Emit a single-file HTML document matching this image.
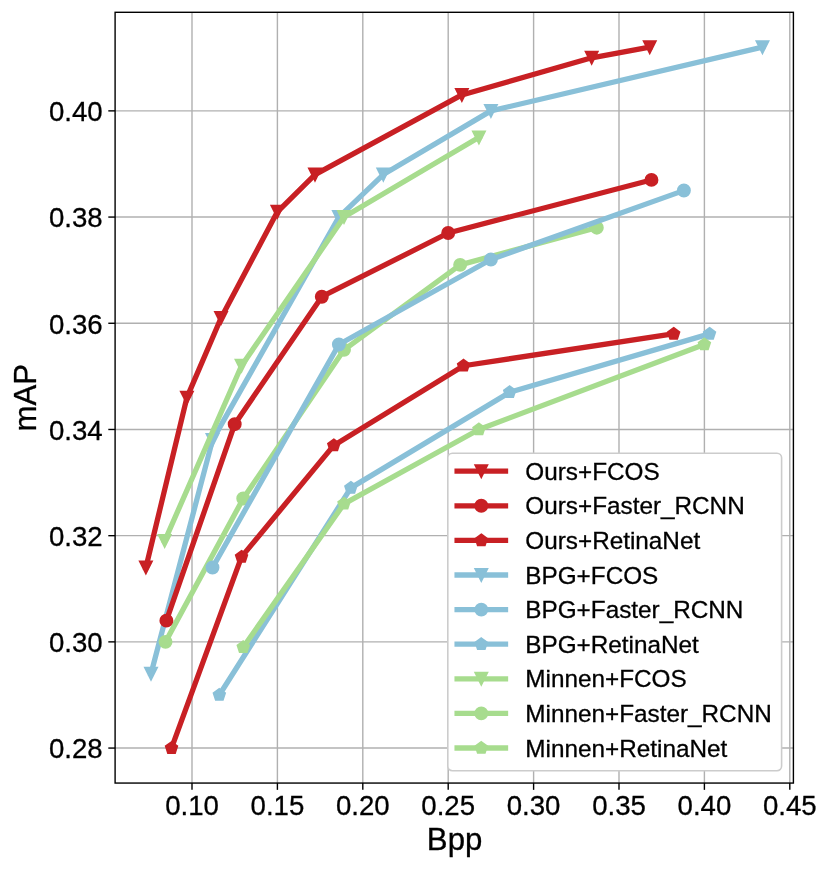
<!DOCTYPE html>
<html><head><meta charset="utf-8"><title>mAP vs Bpp</title>
<style>html,body{margin:0;padding:0;background:#fff;}body{width:830px;height:869px;overflow:hidden;}svg{display:block;}</style>
</head><body>
<svg width="830" height="869" viewBox="0 0 830 869" font-family="'Liberation Sans', Arial, Helvetica, sans-serif" fill="#000">
<rect x="0" y="0" width="830" height="869" fill="#fff"/>
<g stroke="#b0b0b0" stroke-width="1.4" fill="none">
<line x1="192.00" y1="12.3" x2="192.00" y2="783.06"/>
<line x1="277.40" y1="12.3" x2="277.40" y2="783.06"/>
<line x1="362.80" y1="12.3" x2="362.80" y2="783.06"/>
<line x1="448.20" y1="12.3" x2="448.20" y2="783.06"/>
<line x1="533.60" y1="12.3" x2="533.60" y2="783.06"/>
<line x1="619.00" y1="12.3" x2="619.00" y2="783.06"/>
<line x1="704.40" y1="12.3" x2="704.40" y2="783.06"/>
<line x1="789.80" y1="12.3" x2="789.80" y2="783.06"/>
<line x1="115.1" y1="748.07" x2="793.4" y2="748.07"/>
<line x1="115.1" y1="641.87" x2="793.4" y2="641.87"/>
<line x1="115.1" y1="535.67" x2="793.4" y2="535.67"/>
<line x1="115.1" y1="429.47" x2="793.4" y2="429.47"/>
<line x1="115.1" y1="323.27" x2="793.4" y2="323.27"/>
<line x1="115.1" y1="217.07" x2="793.4" y2="217.07"/>
<line x1="115.1" y1="110.87" x2="793.4" y2="110.87"/>
</g>
<clipPath id="ax"><rect x="115.1" y="12.3" width="678.3" height="770.76"/></clipPath>
<g clip-path="url(#ax)">
<polyline points="151.01,673.73 212.50,440.09 338.89,217.07 383.30,174.59 490.90,110.87 762.47,47.15" fill="none" stroke="#89c0d8" stroke-width="5.3" stroke-linejoin="round" stroke-linecap="square"/>
<polygon points="151.01,679.83 144.91,667.63 157.11,667.63" fill="#89c0d8" stroke="#89c0d8" stroke-width="1.74" stroke-linejoin="miter"/>
<polygon points="212.50,446.19 206.40,433.99 218.60,433.99" fill="#89c0d8" stroke="#89c0d8" stroke-width="1.74" stroke-linejoin="miter"/>
<polygon points="338.89,223.17 332.79,210.97 344.99,210.97" fill="#89c0d8" stroke="#89c0d8" stroke-width="1.74" stroke-linejoin="miter"/>
<polygon points="383.30,180.69 377.20,168.49 389.40,168.49" fill="#89c0d8" stroke="#89c0d8" stroke-width="1.74" stroke-linejoin="miter"/>
<polygon points="490.90,116.97 484.80,104.77 497.00,104.77" fill="#89c0d8" stroke="#89c0d8" stroke-width="1.74" stroke-linejoin="miter"/>
<polygon points="762.47,53.25 756.37,41.05 768.57,41.05" fill="#89c0d8" stroke="#89c0d8" stroke-width="1.74" stroke-linejoin="miter"/>
<polyline points="164.67,540.98 241.53,365.75 344.01,217.07 478.94,137.42" fill="none" stroke="#a7dc8e" stroke-width="5.3" stroke-linejoin="round" stroke-linecap="square"/>
<polygon points="164.67,547.08 158.57,534.88 170.77,534.88" fill="#a7dc8e" stroke="#a7dc8e" stroke-width="1.74" stroke-linejoin="miter"/>
<polygon points="241.53,371.85 235.43,359.65 247.63,359.65" fill="#a7dc8e" stroke="#a7dc8e" stroke-width="1.74" stroke-linejoin="miter"/>
<polygon points="344.01,223.17 337.91,210.97 350.11,210.97" fill="#a7dc8e" stroke="#a7dc8e" stroke-width="1.74" stroke-linejoin="miter"/>
<polygon points="478.94,143.52 472.84,131.32 485.04,131.32" fill="#a7dc8e" stroke="#a7dc8e" stroke-width="1.74" stroke-linejoin="miter"/>
<polyline points="165.53,641.87 243.24,498.50 344.01,349.82 460.16,264.86 596.80,227.69" fill="none" stroke="#a7dc8e" stroke-width="5.3" stroke-linejoin="round" stroke-linecap="square"/>
<circle cx="165.53" cy="641.87" r="6.10" fill="#a7dc8e" stroke="#a7dc8e" stroke-width="1.74"/>
<circle cx="243.24" cy="498.50" r="6.10" fill="#a7dc8e" stroke="#a7dc8e" stroke-width="1.74"/>
<circle cx="344.01" cy="349.82" r="6.10" fill="#a7dc8e" stroke="#a7dc8e" stroke-width="1.74"/>
<circle cx="460.16" cy="264.86" r="6.10" fill="#a7dc8e" stroke="#a7dc8e" stroke-width="1.74"/>
<circle cx="596.80" cy="227.69" r="6.10" fill="#a7dc8e" stroke="#a7dc8e" stroke-width="1.74"/>
<polyline points="212.50,567.53 338.89,344.51 490.90,259.55 683.90,190.52" fill="none" stroke="#89c0d8" stroke-width="5.3" stroke-linejoin="round" stroke-linecap="square"/>
<circle cx="212.50" cy="567.53" r="6.10" fill="#89c0d8" stroke="#89c0d8" stroke-width="1.74"/>
<circle cx="338.89" cy="344.51" r="6.10" fill="#89c0d8" stroke="#89c0d8" stroke-width="1.74"/>
<circle cx="490.90" cy="259.55" r="6.10" fill="#89c0d8" stroke="#89c0d8" stroke-width="1.74"/>
<circle cx="683.90" cy="190.52" r="6.10" fill="#89c0d8" stroke="#89c0d8" stroke-width="1.74"/>
<polyline points="219.33,694.97 350.84,487.88 509.69,392.30 709.52,333.89" fill="none" stroke="#89c0d8" stroke-width="5.3" stroke-linejoin="round" stroke-linecap="square"/>
<polygon points="219.33,688.87 225.13,693.08 222.91,699.91 215.74,699.91 213.53,693.08" fill="#89c0d8" stroke="#89c0d8" stroke-width="1.74" stroke-linejoin="miter"/>
<polygon points="350.84,481.78 356.65,485.99 354.43,492.82 347.26,492.82 345.04,485.99" fill="#89c0d8" stroke="#89c0d8" stroke-width="1.74" stroke-linejoin="miter"/>
<polygon points="509.69,386.20 515.49,390.41 513.27,397.24 506.10,397.24 503.89,390.41" fill="#89c0d8" stroke="#89c0d8" stroke-width="1.74" stroke-linejoin="miter"/>
<polygon points="709.52,327.79 715.33,332.00 713.11,338.83 705.94,338.83 703.72,332.00" fill="#89c0d8" stroke="#89c0d8" stroke-width="1.74" stroke-linejoin="miter"/>
<polyline points="243.24,647.18 344.01,503.81 478.94,429.47 704.40,344.51" fill="none" stroke="#a7dc8e" stroke-width="5.3" stroke-linejoin="round" stroke-linecap="square"/>
<polygon points="243.24,641.08 249.04,645.29 246.83,652.12 239.65,652.12 237.44,645.29" fill="#a7dc8e" stroke="#a7dc8e" stroke-width="1.74" stroke-linejoin="miter"/>
<polygon points="344.01,497.71 349.81,501.92 347.60,508.75 340.43,508.75 338.21,501.92" fill="#a7dc8e" stroke="#a7dc8e" stroke-width="1.74" stroke-linejoin="miter"/>
<polygon points="478.94,423.37 484.75,427.58 482.53,434.41 475.36,434.41 473.14,427.58" fill="#a7dc8e" stroke="#a7dc8e" stroke-width="1.74" stroke-linejoin="miter"/>
<polygon points="704.40,338.41 710.20,342.62 707.99,349.45 700.81,349.45 698.60,342.62" fill="#a7dc8e" stroke="#a7dc8e" stroke-width="1.74" stroke-linejoin="miter"/>
<polyline points="145.88,567.53 186.88,397.61 221.04,317.96 277.40,211.76 314.98,174.59 461.86,94.94 591.67,57.77 649.74,47.15" fill="none" stroke="#c82024" stroke-width="5.3" stroke-linejoin="round" stroke-linecap="square"/>
<polygon points="145.88,573.63 139.78,561.43 151.98,561.43" fill="#c82024" stroke="#c82024" stroke-width="1.74" stroke-linejoin="miter"/>
<polygon points="186.88,403.71 180.78,391.51 192.98,391.51" fill="#c82024" stroke="#c82024" stroke-width="1.74" stroke-linejoin="miter"/>
<polygon points="221.04,324.06 214.94,311.86 227.14,311.86" fill="#c82024" stroke="#c82024" stroke-width="1.74" stroke-linejoin="miter"/>
<polygon points="277.40,217.86 271.30,205.66 283.50,205.66" fill="#c82024" stroke="#c82024" stroke-width="1.74" stroke-linejoin="miter"/>
<polygon points="314.98,180.69 308.88,168.49 321.08,168.49" fill="#c82024" stroke="#c82024" stroke-width="1.74" stroke-linejoin="miter"/>
<polygon points="461.86,101.04 455.76,88.84 467.96,88.84" fill="#c82024" stroke="#c82024" stroke-width="1.74" stroke-linejoin="miter"/>
<polygon points="591.67,63.87 585.57,51.67 597.77,51.67" fill="#c82024" stroke="#c82024" stroke-width="1.74" stroke-linejoin="miter"/>
<polygon points="649.74,53.25 643.64,41.05 655.84,41.05" fill="#c82024" stroke="#c82024" stroke-width="1.74" stroke-linejoin="miter"/>
<polyline points="166.38,620.63 234.70,424.16 321.81,296.72 448.20,233.00 651.45,179.90" fill="none" stroke="#c82024" stroke-width="5.3" stroke-linejoin="round" stroke-linecap="square"/>
<circle cx="166.38" cy="620.63" r="6.10" fill="#c82024" stroke="#c82024" stroke-width="1.74"/>
<circle cx="234.70" cy="424.16" r="6.10" fill="#c82024" stroke="#c82024" stroke-width="1.74"/>
<circle cx="321.81" cy="296.72" r="6.10" fill="#c82024" stroke="#c82024" stroke-width="1.74"/>
<circle cx="448.20" cy="233.00" r="6.10" fill="#c82024" stroke="#c82024" stroke-width="1.74"/>
<circle cx="651.45" cy="179.90" r="6.10" fill="#c82024" stroke="#c82024" stroke-width="1.74"/>
<polyline points="171.50,748.07 241.53,556.91 333.76,445.40 463.57,365.75 673.66,333.89" fill="none" stroke="#c82024" stroke-width="5.3" stroke-linejoin="round" stroke-linecap="square"/>
<polygon points="171.50,741.97 177.31,746.18 175.09,753.01 167.92,753.01 165.70,746.18" fill="#c82024" stroke="#c82024" stroke-width="1.74" stroke-linejoin="miter"/>
<polygon points="241.53,550.81 247.33,555.02 245.12,561.85 237.95,561.85 235.73,555.02" fill="#c82024" stroke="#c82024" stroke-width="1.74" stroke-linejoin="miter"/>
<polygon points="333.76,439.30 339.57,443.51 337.35,450.34 330.18,450.34 327.96,443.51" fill="#c82024" stroke="#c82024" stroke-width="1.74" stroke-linejoin="miter"/>
<polygon points="463.57,359.65 469.37,363.86 467.16,370.69 459.99,370.69 457.77,363.86" fill="#c82024" stroke="#c82024" stroke-width="1.74" stroke-linejoin="miter"/>
<polygon points="673.66,327.79 679.46,332.00 677.24,338.83 670.07,338.83 667.85,332.00" fill="#c82024" stroke="#c82024" stroke-width="1.74" stroke-linejoin="miter"/>
</g>
<g stroke="#000" stroke-width="1.4">
<line x1="192.00" y1="783.06" x2="192.00" y2="789.86"/>
<line x1="277.40" y1="783.06" x2="277.40" y2="789.86"/>
<line x1="362.80" y1="783.06" x2="362.80" y2="789.86"/>
<line x1="448.20" y1="783.06" x2="448.20" y2="789.86"/>
<line x1="533.60" y1="783.06" x2="533.60" y2="789.86"/>
<line x1="619.00" y1="783.06" x2="619.00" y2="789.86"/>
<line x1="704.40" y1="783.06" x2="704.40" y2="789.86"/>
<line x1="789.80" y1="783.06" x2="789.80" y2="789.86"/>
<line x1="108.30" y1="748.07" x2="115.1" y2="748.07"/>
<line x1="108.30" y1="641.87" x2="115.1" y2="641.87"/>
<line x1="108.30" y1="535.67" x2="115.1" y2="535.67"/>
<line x1="108.30" y1="429.47" x2="115.1" y2="429.47"/>
<line x1="108.30" y1="323.27" x2="115.1" y2="323.27"/>
<line x1="108.30" y1="217.07" x2="115.1" y2="217.07"/>
<line x1="108.30" y1="110.87" x2="115.1" y2="110.87"/>
</g>
<rect x="115.1" y="12.3" width="678.30" height="770.76" fill="none" stroke="#000" stroke-width="1.4" stroke-linejoin="miter"/>
<g font-size="27.6px" stroke="#000" stroke-width="0.3">
<text x="192.00" y="815.4" text-anchor="middle">0.10</text>
<text x="277.40" y="815.4" text-anchor="middle">0.15</text>
<text x="362.80" y="815.4" text-anchor="middle">0.20</text>
<text x="448.20" y="815.4" text-anchor="middle">0.25</text>
<text x="533.60" y="815.4" text-anchor="middle">0.30</text>
<text x="619.00" y="815.4" text-anchor="middle">0.35</text>
<text x="704.40" y="815.4" text-anchor="middle">0.40</text>
<text x="789.80" y="815.4" text-anchor="middle">0.45</text>
<text x="102.6" y="758.37" text-anchor="end">0.28</text>
<text x="102.6" y="652.17" text-anchor="end">0.30</text>
<text x="102.6" y="545.97" text-anchor="end">0.32</text>
<text x="102.6" y="439.77" text-anchor="end">0.34</text>
<text x="102.6" y="333.57" text-anchor="end">0.36</text>
<text x="102.6" y="227.37" text-anchor="end">0.38</text>
<text x="102.6" y="121.17" text-anchor="end">0.40</text>
</g>
<text x="454.6" y="849.9" font-size="31.2px" stroke="#000" stroke-width="0.3" text-anchor="middle">Bpp</text>
<text transform="translate(35.7,397.7) rotate(-90)" font-size="31.2px" stroke="#000" stroke-width="0.3" text-anchor="middle">mAP</text>
<rect x="447.8" y="453.2" width="333.80" height="317.50" rx="4.6" ry="4.6" fill="#fff" fill-opacity="1" stroke="#cccccc" stroke-width="1.6"/>
<g font-size="24.3px" stroke-width="0.3">
<line x1="457.1" y1="471.20" x2="505.5" y2="471.20" stroke="#c82024" stroke-width="5.3" stroke-linecap="square"/>
<polygon points="481.30,477.30 475.20,465.10 487.40,465.10" fill="#c82024" stroke="#c82024" stroke-width="1.74" stroke-linejoin="miter"/>
<text x="525.3" y="479.70" stroke="#000">Ours+FCOS</text>
<line x1="457.1" y1="505.80" x2="505.5" y2="505.80" stroke="#c82024" stroke-width="5.3" stroke-linecap="square"/>
<circle cx="481.30" cy="505.80" r="6.10" fill="#c82024" stroke="#c82024" stroke-width="1.74"/>
<text x="525.3" y="514.30" stroke="#000">Ours+Faster_RCNN</text>
<line x1="457.1" y1="540.40" x2="505.5" y2="540.40" stroke="#c82024" stroke-width="5.3" stroke-linecap="square"/>
<polygon points="481.30,534.30 487.10,538.51 484.89,545.34 477.71,545.34 475.50,538.51" fill="#c82024" stroke="#c82024" stroke-width="1.74" stroke-linejoin="miter"/>
<text x="525.3" y="548.90" stroke="#000">Ours+RetinaNet</text>
<line x1="457.1" y1="575.00" x2="505.5" y2="575.00" stroke="#89c0d8" stroke-width="5.3" stroke-linecap="square"/>
<polygon points="481.30,581.10 475.20,568.90 487.40,568.90" fill="#89c0d8" stroke="#89c0d8" stroke-width="1.74" stroke-linejoin="miter"/>
<text x="525.3" y="583.50" stroke="#000">BPG+FCOS</text>
<line x1="457.1" y1="609.60" x2="505.5" y2="609.60" stroke="#89c0d8" stroke-width="5.3" stroke-linecap="square"/>
<circle cx="481.30" cy="609.60" r="6.10" fill="#89c0d8" stroke="#89c0d8" stroke-width="1.74"/>
<text x="525.3" y="618.10" stroke="#000">BPG+Faster_RCNN</text>
<line x1="457.1" y1="644.20" x2="505.5" y2="644.20" stroke="#89c0d8" stroke-width="5.3" stroke-linecap="square"/>
<polygon points="481.30,638.10 487.10,642.31 484.89,649.14 477.71,649.14 475.50,642.31" fill="#89c0d8" stroke="#89c0d8" stroke-width="1.74" stroke-linejoin="miter"/>
<text x="525.3" y="652.70" stroke="#000">BPG+RetinaNet</text>
<line x1="457.1" y1="678.80" x2="505.5" y2="678.80" stroke="#a7dc8e" stroke-width="5.3" stroke-linecap="square"/>
<polygon points="481.30,684.90 475.20,672.70 487.40,672.70" fill="#a7dc8e" stroke="#a7dc8e" stroke-width="1.74" stroke-linejoin="miter"/>
<text x="525.3" y="687.30" stroke="#000">Minnen+FCOS</text>
<line x1="457.1" y1="713.40" x2="505.5" y2="713.40" stroke="#a7dc8e" stroke-width="5.3" stroke-linecap="square"/>
<circle cx="481.30" cy="713.40" r="6.10" fill="#a7dc8e" stroke="#a7dc8e" stroke-width="1.74"/>
<text x="525.3" y="721.90" stroke="#000">Minnen+Faster_RCNN</text>
<line x1="457.1" y1="748.00" x2="505.5" y2="748.00" stroke="#a7dc8e" stroke-width="5.3" stroke-linecap="square"/>
<polygon points="481.30,741.90 487.10,746.11 484.89,752.94 477.71,752.94 475.50,746.11" fill="#a7dc8e" stroke="#a7dc8e" stroke-width="1.74" stroke-linejoin="miter"/>
<text x="525.3" y="756.50" stroke="#000">Minnen+RetinaNet</text>
</g>
</svg>
</body></html>
